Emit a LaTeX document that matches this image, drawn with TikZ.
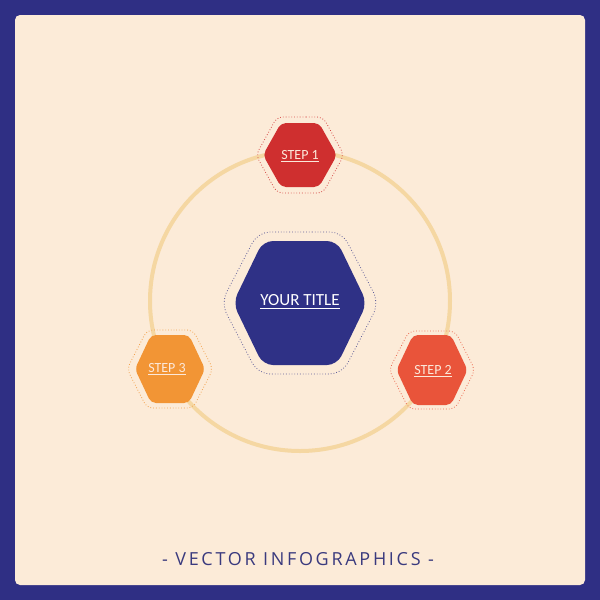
\documentclass[tikz,border=0pt]{standalone}
\usepackage{fontspec}
\setmainfont{Carlito}
\newfontfamily\capfont[LetterSpace=15]{Open Sans}
\definecolor{framebg}{HTML}{2F2F84}
\definecolor{cream}{HTML}{FCEBD8}
\definecolor{ring}{HTML}{F5D7A2}
\definecolor{redA}{HTML}{CF2F2F}
\definecolor{redB}{HTML}{E9543A}
\definecolor{orangeC}{HTML}{F29535}
\definecolor{titleblue}{HTML}{2F3186}
\definecolor{txtlight}{HTML}{FCE8DA}
\definecolor{captxt}{HTML}{3A3A7E}
\newcommand\ulx[2]{\setbox0\hbox{#2}\rlap{\rule[#1]{\wd0}{1.2pt}}\box0}
\newcommand\hexa[4]{%
  \draw[#1] (0,-#3) -- (#4,-#3) -- (#2,0) -- (#4,#3) -- (-#4,#3) -- (-#2,0) -- (-#4,-#3) -- cycle;}
\tikzset{
  stepfill/.style={fill=#1, draw=none, rounded corners=5pt},
  stepdots/.style={draw=#1, dotted, line width=0.8pt, rounded corners=6pt},
  steptext/.style={text=txtlight, font=\fontsize{14}{15}\selectfont, inner sep=0pt},
}
\begin{document}
\begin{tikzpicture}[x=1pt,y=-1pt]
\useasboundingbox (0,0) rectangle (600,600);
\fill[framebg] (0,0) rectangle (600,600);
\fill[cream, rounded corners=5pt] (15,15) rectangle (585,585);
\draw[ring, line width=4pt] (300,301) circle[radius=150];
% title hexagon
\begin{scope}[shift={(300,303)}]
  \hexa{stepdots=titleblue!75!cream, rounded corners=12pt}{79}{71}{42}
  \hexa{stepfill=titleblue, rounded corners=10pt}{67}{62}{37}
\end{scope}
% step 1
\begin{scope}[shift={(300,155)}]
  \hexa{stepdots=redA!85!cream}{44}{38}{23}
  \hexa{stepfill=redA}{37}{32}{19}
\end{scope}
% step 2
\begin{scope}[shift={(432,370)}]
  \hexa{stepdots=redB!85!cream}{43}{39}{23}
  \hexa{stepfill=redB}{35.5}{35}{19}
\end{scope}
% step 3
\begin{scope}[shift={(170,369)}]
  \hexa{stepdots=orangeC!85!cream}{43}{39}{23}
  \hexa{stepfill=orangeC}{35}{34}{19}
\end{scope}
\node[text=white, font=\fontsize{17}{18}\selectfont, inner sep=0pt] (title) at (300,302) {\color{white}\ulx{-3.5pt}{YOUR TITLE}};
\node[steptext] (s1) at (300,156) {\ulx{-3pt}{STEP 1}};
\node[steptext] (s2) at (433,371) {\ulx{-3pt}{STEP 2}};
\node[steptext] (s3) at (167,369) {\ulx{-3pt}{STEP 3}};
\node[text=captxt, font=\capfont\fontsize{18}{19}\selectfont, inner sep=0pt] (cap) at (298,559) {- VECTOR INFOGRAPHICS -};
\end{tikzpicture}
\end{document}
